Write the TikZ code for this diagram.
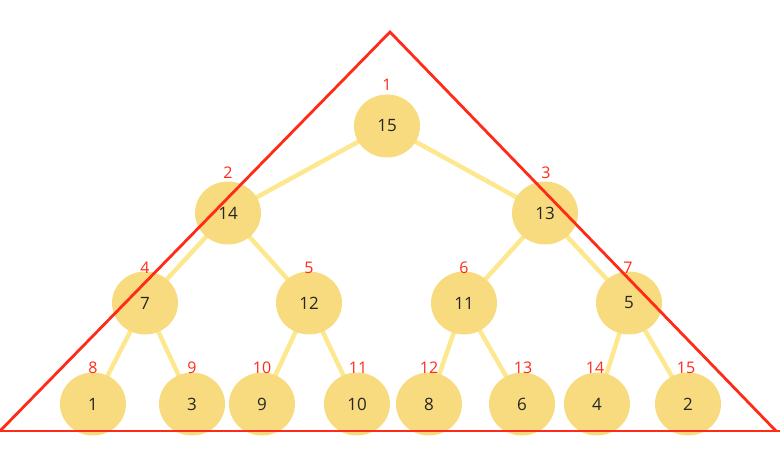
\documentclass[tikz,border=0pt]{standalone}
\usepackage{fontspec}
\setmainfont{Open Sans}
\definecolor{nodefill}{HTML}{F8DB7E}
\definecolor{edgecol}{HTML}{FDE890}
\definecolor{tri}{HTML}{FF2A17}
\usetikzlibrary{shapes.geometric}
\tikzset{
  heapnode/.style={ellipse, fill=nodefill, minimum width=66pt, minimum height=63pt, inner sep=0pt, font=\fontsize{17}{20}\selectfont, text=black!85},
  idx/.style={text=tri, font=\fontsize{16}{18}\selectfont, inner sep=0pt},
  edge/.style={draw=edgecol, line width=4.5pt}
}
\pgfdeclarelayer{bg}
\pgfsetlayers{bg,main}
\begin{document}
\begin{tikzpicture}[x=1pt,y=-1pt]
\useasboundingbox (0,0) rectangle (780,468);
% nodes
\node[heapnode] (n1) at (387,126) {15};
\node[heapnode] (n2) at (228,213) {14};
\node[heapnode] (n3) at (545,213) {13};
\node[heapnode] (n4) at (145,303) {7};
\node[heapnode] (n5) at (309,303) {12};
\node[heapnode] (n6) at (464,303) {11};
\node[heapnode] (n7) at (629,303) {5};
\node[heapnode] (n8) at (93,404) {1};
\node[heapnode] (n9) at (192,404) {3};
\node[heapnode] (n10) at (262,404) {9};
\node[heapnode] (n11) at (357,404) {10};
\node[heapnode] (n12) at (429,404) {8};
\node[heapnode] (n13) at (522,404) {6};
\node[heapnode] (n14) at (597,404) {4};
\node[heapnode] (n15) at (688,404) {2};
% edges behind nodes
\begin{pgfonlayer}{bg}
\draw[edge] (n1.center) -- (n2.center);
\draw[edge] (n1.center) -- (n3.center);
\draw[edge] (n2.center) -- (n4.center);
\draw[edge] (n2.center) -- (n5.center);
\draw[edge] (n3.center) -- (n6.center);
\draw[edge] (n3.center) -- (n7.center);
\draw[edge] (n4.center) -- (n8.center);
\draw[edge] (n4.center) -- (n9.center);
\draw[edge] (n5.center) -- (n10.center);
\draw[edge] (n5.center) -- (n11.center);
\draw[edge] (n6.center) -- (n12.center);
\draw[edge] (n6.center) -- (n13.center);
\draw[edge] (n7.center) -- (n14.center);
\draw[edge] (n7.center) -- (n15.center);
\end{pgfonlayer}
% triangle
\coordinate (apex) at (390,32);
\coordinate (bl) at (0,431);
\coordinate (br) at (776,431);
\coordinate (be) at (780,431);
\draw[tri, line width=2.8pt, line join=miter] (bl) -- (apex) -- (br);
\draw[tri, line width=2.8pt] (bl) -- (be);
% index labels
\node[idx] (l1) at (387,85) {1};
\node[idx] (l2) at (228,173) {2};
\node[idx] (l3) at (546,173) {3};
\node[idx] (l4) at (145,268) {4};
\node[idx] (l5) at (309,268) {5};
\node[idx] (l6) at (464,268) {6};
\node[idx] (l7) at (628,268) {7};
\node[idx] (l8) at (93,368) {8};
\node[idx] (l9) at (192,368) {9};
\node[idx] (l10) at (262,368) {10};
\node[idx] (l11) at (358,368) {11};
\node[idx] (l12) at (429,368) {12};
\node[idx] (l13) at (523,368) {13};
\node[idx] (l14) at (595,368) {14};
\node[idx] (l15) at (686,368) {15};
\end{tikzpicture}
\end{document}
